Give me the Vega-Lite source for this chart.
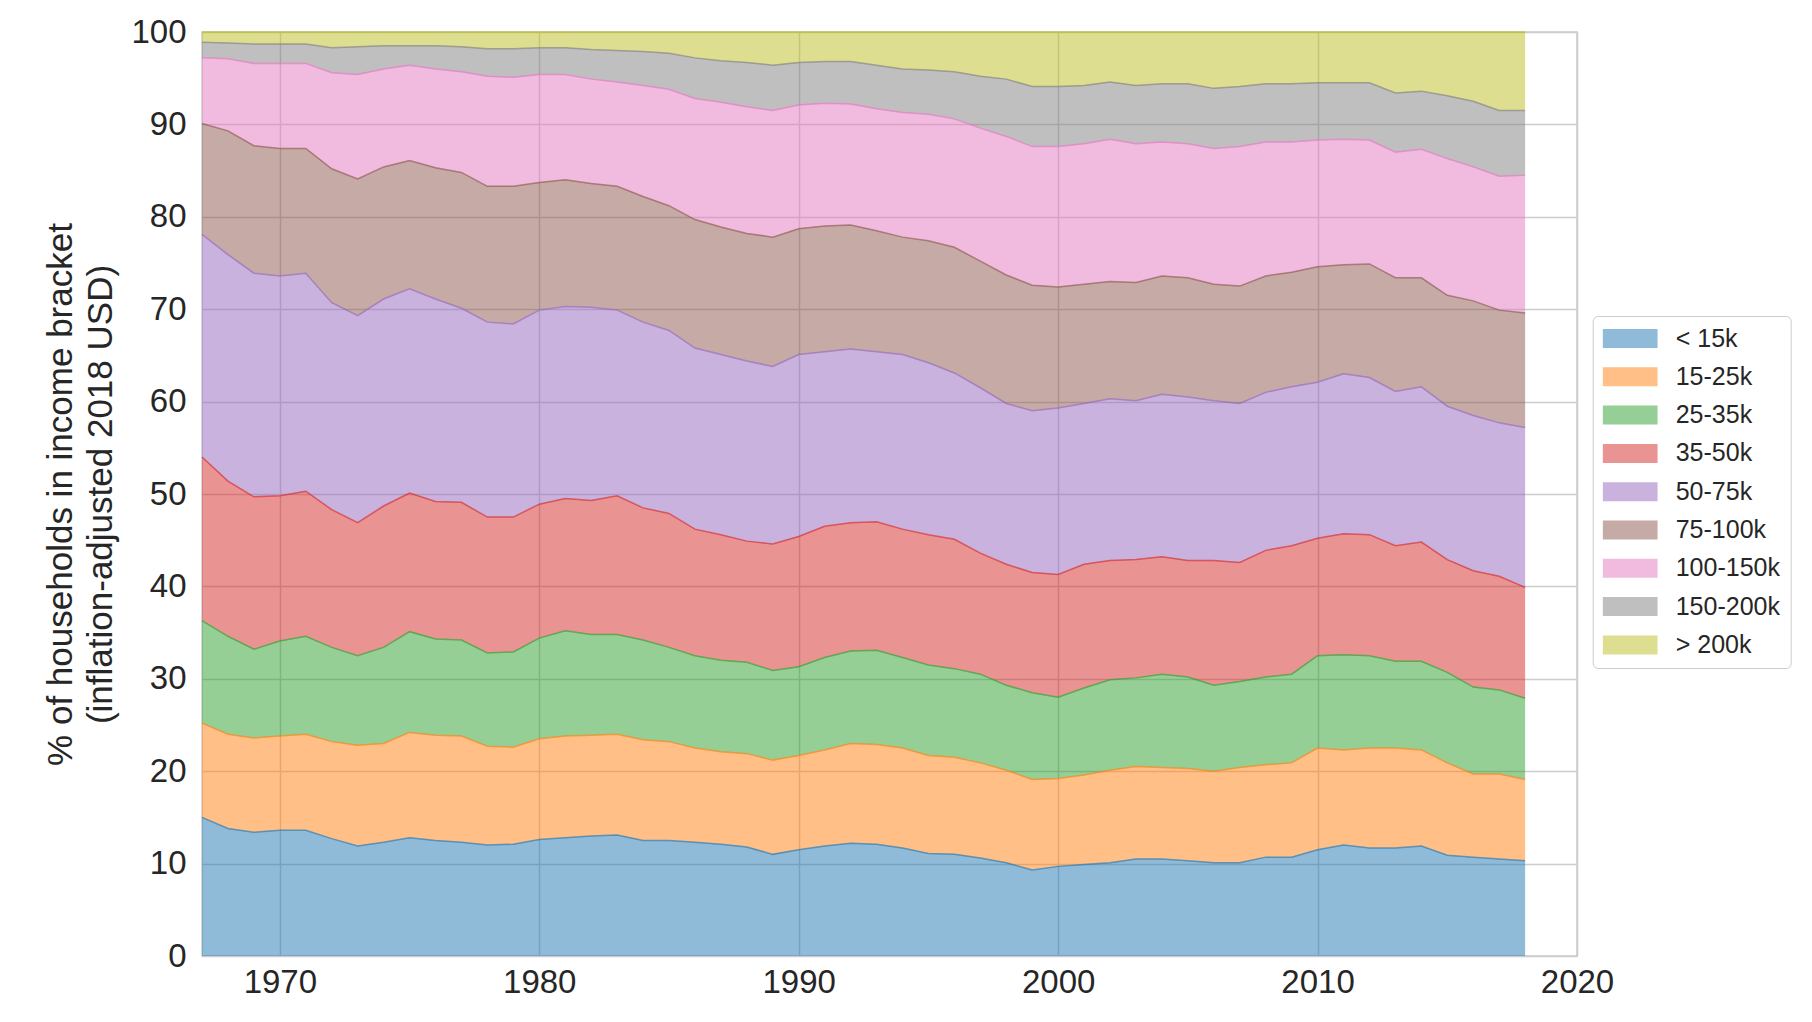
{
"$schema": "https://vega.github.io/schema/vega-lite/v6.json",
"width": 1375, "height": 924,
"autosize": {"type": "none"},
"padding": {"left": 202, "top": 32, "right": 235, "bottom": 66},
"background": "white",
"config": {
  "font": "Liberation Sans",
  "view": {"stroke": "#cccccc", "strokeWidth": 1.5},
  "axis": {"grid": true, "gridColor": "#cccccc", "gridWidth": 1.5, "domain": false, "ticks": false,
    "labelFont": "Liberation Sans", "labelFontSize": 33, "labelColor": "#262626",
    "titleFont": "Liberation Sans", "titleFontSize": 35, "titleColor": "#262626", "titleFontWeight": "normal"}
},
"data": {"values": [
{"year":1967,"bracket":"< 15k","pct":15.0,"rank":1},{"year":1967,"bracket":"15-25k","pct":10.2,"rank":2},{"year":1967,"bracket":"25-35k","pct":11.1,"rank":3},{"year":1967,"bracket":"35-50k","pct":17.7,"rank":4},{"year":1967,"bracket":"50-75k","pct":24.1,"rank":5},{"year":1967,"bracket":"75-100k","pct":12.0,"rank":6},{"year":1967,"bracket":"100-150k","pct":7.1,"rank":7},{"year":1967,"bracket":"150-200k","pct":1.7,"rank":8},{"year":1967,"bracket":"> 200k","pct":1.1,"rank":9},
{"year":1968,"bracket":"< 15k","pct":13.8,"rank":1},{"year":1968,"bracket":"15-25k","pct":10.2,"rank":2},{"year":1968,"bracket":"25-35k","pct":10.6,"rank":3},{"year":1968,"bracket":"35-50k","pct":16.8,"rank":4},{"year":1968,"bracket":"50-75k","pct":24.5,"rank":5},{"year":1968,"bracket":"75-100k","pct":13.4,"rank":6},{"year":1968,"bracket":"100-150k","pct":7.8,"rank":7},{"year":1968,"bracket":"150-200k","pct":1.7,"rank":8},{"year":1968,"bracket":"> 200k","pct":1.2,"rank":9},
{"year":1969,"bracket":"< 15k","pct":13.4,"rank":1},{"year":1969,"bracket":"15-25k","pct":10.2,"rank":2},{"year":1969,"bracket":"25-35k","pct":9.6,"rank":3},{"year":1969,"bracket":"35-50k","pct":16.5,"rank":4},{"year":1969,"bracket":"50-75k","pct":24.2,"rank":5},{"year":1969,"bracket":"75-100k","pct":13.8,"rank":6},{"year":1969,"bracket":"100-150k","pct":8.9,"rank":7},{"year":1969,"bracket":"150-200k","pct":2.1,"rank":8},{"year":1969,"bracket":"> 200k","pct":1.3,"rank":9},
{"year":1970,"bracket":"< 15k","pct":13.6,"rank":1},{"year":1970,"bracket":"15-25k","pct":10.2,"rank":2},{"year":1970,"bracket":"25-35k","pct":10.3,"rank":3},{"year":1970,"bracket":"35-50k","pct":15.7,"rank":4},{"year":1970,"bracket":"50-75k","pct":23.8,"rank":5},{"year":1970,"bracket":"75-100k","pct":13.8,"rank":6},{"year":1970,"bracket":"100-150k","pct":9.2,"rank":7},{"year":1970,"bracket":"150-200k","pct":2.1,"rank":8},{"year":1970,"bracket":"> 200k","pct":1.3,"rank":9},
{"year":1971,"bracket":"< 15k","pct":13.6,"rank":1},{"year":1971,"bracket":"15-25k","pct":10.4,"rank":2},{"year":1971,"bracket":"25-35k","pct":10.6,"rank":3},{"year":1971,"bracket":"35-50k","pct":15.7,"rank":4},{"year":1971,"bracket":"50-75k","pct":23.6,"rank":5},{"year":1971,"bracket":"75-100k","pct":13.5,"rank":6},{"year":1971,"bracket":"100-150k","pct":9.2,"rank":7},{"year":1971,"bracket":"150-200k","pct":2.1,"rank":8},{"year":1971,"bracket":"> 200k","pct":1.3,"rank":9},
{"year":1972,"bracket":"< 15k","pct":12.7,"rank":1},{"year":1972,"bracket":"15-25k","pct":10.5,"rank":2},{"year":1972,"bracket":"25-35k","pct":10.2,"rank":3},{"year":1972,"bracket":"35-50k","pct":14.9,"rank":4},{"year":1972,"bracket":"50-75k","pct":22.4,"rank":5},{"year":1972,"bracket":"75-100k","pct":14.5,"rank":6},{"year":1972,"bracket":"100-150k","pct":10.4,"rank":7},{"year":1972,"bracket":"150-200k","pct":2.7,"rank":8},{"year":1972,"bracket":"> 200k","pct":1.7,"rank":9},
{"year":1973,"bracket":"< 15k","pct":11.9,"rank":1},{"year":1973,"bracket":"15-25k","pct":10.9,"rank":2},{"year":1973,"bracket":"25-35k","pct":9.7,"rank":3},{"year":1973,"bracket":"35-50k","pct":14.4,"rank":4},{"year":1973,"bracket":"50-75k","pct":22.4,"rank":5},{"year":1973,"bracket":"75-100k","pct":14.8,"rank":6},{"year":1973,"bracket":"100-150k","pct":11.3,"rank":7},{"year":1973,"bracket":"150-200k","pct":3.0,"rank":8},{"year":1973,"bracket":"> 200k","pct":1.6,"rank":9},
{"year":1974,"bracket":"< 15k","pct":12.3,"rank":1},{"year":1974,"bracket":"15-25k","pct":10.7,"rank":2},{"year":1974,"bracket":"25-35k","pct":10.4,"rank":3},{"year":1974,"bracket":"35-50k","pct":15.3,"rank":4},{"year":1974,"bracket":"50-75k","pct":22.4,"rank":5},{"year":1974,"bracket":"75-100k","pct":14.3,"rank":6},{"year":1974,"bracket":"100-150k","pct":10.6,"rank":7},{"year":1974,"bracket":"150-200k","pct":2.5,"rank":8},{"year":1974,"bracket":"> 200k","pct":1.5,"rank":9},
{"year":1975,"bracket":"< 15k","pct":12.8,"rank":1},{"year":1975,"bracket":"15-25k","pct":11.4,"rank":2},{"year":1975,"bracket":"25-35k","pct":10.9,"rank":3},{"year":1975,"bracket":"35-50k","pct":15.0,"rank":4},{"year":1975,"bracket":"50-75k","pct":22.1,"rank":5},{"year":1975,"bracket":"75-100k","pct":13.9,"rank":6},{"year":1975,"bracket":"100-150k","pct":10.3,"rank":7},{"year":1975,"bracket":"150-200k","pct":2.1,"rank":8},{"year":1975,"bracket":"> 200k","pct":1.5,"rank":9},
{"year":1976,"bracket":"< 15k","pct":12.5,"rank":1},{"year":1976,"bracket":"15-25k","pct":11.4,"rank":2},{"year":1976,"bracket":"25-35k","pct":10.4,"rank":3},{"year":1976,"bracket":"35-50k","pct":14.9,"rank":4},{"year":1976,"bracket":"50-75k","pct":21.9,"rank":5},{"year":1976,"bracket":"75-100k","pct":14.2,"rank":6},{"year":1976,"bracket":"100-150k","pct":10.7,"rank":7},{"year":1976,"bracket":"150-200k","pct":2.5,"rank":8},{"year":1976,"bracket":"> 200k","pct":1.5,"rank":9},
{"year":1977,"bracket":"< 15k","pct":12.3,"rank":1},{"year":1977,"bracket":"15-25k","pct":11.5,"rank":2},{"year":1977,"bracket":"25-35k","pct":10.4,"rank":3},{"year":1977,"bracket":"35-50k","pct":14.9,"rank":4},{"year":1977,"bracket":"50-75k","pct":21.0,"rank":5},{"year":1977,"bracket":"75-100k","pct":14.7,"rank":6},{"year":1977,"bracket":"100-150k","pct":10.9,"rank":7},{"year":1977,"bracket":"150-200k","pct":2.7,"rank":8},{"year":1977,"bracket":"> 200k","pct":1.6,"rank":9},
{"year":1978,"bracket":"< 15k","pct":12.0,"rank":1},{"year":1978,"bracket":"15-25k","pct":10.7,"rank":2},{"year":1978,"bracket":"25-35k","pct":10.1,"rank":3},{"year":1978,"bracket":"35-50k","pct":14.7,"rank":4},{"year":1978,"bracket":"50-75k","pct":21.1,"rank":5},{"year":1978,"bracket":"75-100k","pct":14.7,"rank":6},{"year":1978,"bracket":"100-150k","pct":11.9,"rank":7},{"year":1978,"bracket":"150-200k","pct":3.0,"rank":8},{"year":1978,"bracket":"> 200k","pct":1.8,"rank":9},
{"year":1979,"bracket":"< 15k","pct":12.1,"rank":1},{"year":1979,"bracket":"15-25k","pct":10.5,"rank":2},{"year":1979,"bracket":"25-35k","pct":10.3,"rank":3},{"year":1979,"bracket":"35-50k","pct":14.6,"rank":4},{"year":1979,"bracket":"50-75k","pct":20.9,"rank":5},{"year":1979,"bracket":"75-100k","pct":14.9,"rank":6},{"year":1979,"bracket":"100-150k","pct":11.8,"rank":7},{"year":1979,"bracket":"150-200k","pct":3.1,"rank":8},{"year":1979,"bracket":"> 200k","pct":1.8,"rank":9},
{"year":1980,"bracket":"< 15k","pct":12.6,"rank":1},{"year":1980,"bracket":"15-25k","pct":10.9,"rank":2},{"year":1980,"bracket":"25-35k","pct":10.9,"rank":3},{"year":1980,"bracket":"35-50k","pct":14.5,"rank":4},{"year":1980,"bracket":"50-75k","pct":21.0,"rank":5},{"year":1980,"bracket":"75-100k","pct":13.8,"rank":6},{"year":1980,"bracket":"100-150k","pct":11.7,"rank":7},{"year":1980,"bracket":"150-200k","pct":2.9,"rank":8},{"year":1980,"bracket":"> 200k","pct":1.7,"rank":9},
{"year":1981,"bracket":"< 15k","pct":12.8,"rank":1},{"year":1981,"bracket":"15-25k","pct":11.0,"rank":2},{"year":1981,"bracket":"25-35k","pct":11.4,"rank":3},{"year":1981,"bracket":"35-50k","pct":14.3,"rank":4},{"year":1981,"bracket":"50-75k","pct":20.8,"rank":5},{"year":1981,"bracket":"75-100k","pct":13.7,"rank":6},{"year":1981,"bracket":"100-150k","pct":11.4,"rank":7},{"year":1981,"bracket":"150-200k","pct":2.9,"rank":8},{"year":1981,"bracket":"> 200k","pct":1.7,"rank":9},
{"year":1982,"bracket":"< 15k","pct":13.0,"rank":1},{"year":1982,"bracket":"15-25k","pct":10.9,"rank":2},{"year":1982,"bracket":"25-35k","pct":10.9,"rank":3},{"year":1982,"bracket":"35-50k","pct":14.5,"rank":4},{"year":1982,"bracket":"50-75k","pct":20.9,"rank":5},{"year":1982,"bracket":"75-100k","pct":13.4,"rank":6},{"year":1982,"bracket":"100-150k","pct":11.3,"rank":7},{"year":1982,"bracket":"150-200k","pct":3.2,"rank":8},{"year":1982,"bracket":"> 200k","pct":1.9,"rank":9},
{"year":1983,"bracket":"< 15k","pct":13.1,"rank":1},{"year":1983,"bracket":"15-25k","pct":10.9,"rank":2},{"year":1983,"bracket":"25-35k","pct":10.8,"rank":3},{"year":1983,"bracket":"35-50k","pct":15.0,"rank":4},{"year":1983,"bracket":"50-75k","pct":20.1,"rank":5},{"year":1983,"bracket":"75-100k","pct":13.4,"rank":6},{"year":1983,"bracket":"100-150k","pct":11.3,"rank":7},{"year":1983,"bracket":"150-200k","pct":3.4,"rank":8},{"year":1983,"bracket":"> 200k","pct":2.0,"rank":9},
{"year":1984,"bracket":"< 15k","pct":12.5,"rank":1},{"year":1984,"bracket":"15-25k","pct":10.9,"rank":2},{"year":1984,"bracket":"25-35k","pct":10.8,"rank":3},{"year":1984,"bracket":"35-50k","pct":14.3,"rank":4},{"year":1984,"bracket":"50-75k","pct":20.1,"rank":5},{"year":1984,"bracket":"75-100k","pct":13.6,"rank":6},{"year":1984,"bracket":"100-150k","pct":12.0,"rank":7},{"year":1984,"bracket":"150-200k","pct":3.7,"rank":8},{"year":1984,"bracket":"> 200k","pct":2.1,"rank":9},
{"year":1985,"bracket":"< 15k","pct":12.5,"rank":1},{"year":1985,"bracket":"15-25k","pct":10.7,"rank":2},{"year":1985,"bracket":"25-35k","pct":10.2,"rank":3},{"year":1985,"bracket":"35-50k","pct":14.5,"rank":4},{"year":1985,"bracket":"50-75k","pct":19.8,"rank":5},{"year":1985,"bracket":"75-100k","pct":13.5,"rank":6},{"year":1985,"bracket":"100-150k","pct":12.6,"rank":7},{"year":1985,"bracket":"150-200k","pct":3.9,"rank":8},{"year":1985,"bracket":"> 200k","pct":2.3,"rank":9},
{"year":1986,"bracket":"< 15k","pct":12.3,"rank":1},{"year":1986,"bracket":"15-25k","pct":10.2,"rank":2},{"year":1986,"bracket":"25-35k","pct":10.0,"rank":3},{"year":1986,"bracket":"35-50k","pct":13.7,"rank":4},{"year":1986,"bracket":"50-75k","pct":19.6,"rank":5},{"year":1986,"bracket":"75-100k","pct":13.9,"rank":6},{"year":1986,"bracket":"100-150k","pct":13.1,"rank":7},{"year":1986,"bracket":"150-200k","pct":4.4,"rank":8},{"year":1986,"bracket":"> 200k","pct":2.8,"rank":9},
{"year":1987,"bracket":"< 15k","pct":12.1,"rank":1},{"year":1987,"bracket":"15-25k","pct":10.0,"rank":2},{"year":1987,"bracket":"25-35k","pct":9.9,"rank":3},{"year":1987,"bracket":"35-50k","pct":13.6,"rank":4},{"year":1987,"bracket":"50-75k","pct":19.5,"rank":5},{"year":1987,"bracket":"75-100k","pct":13.8,"rank":6},{"year":1987,"bracket":"100-150k","pct":13.5,"rank":7},{"year":1987,"bracket":"150-200k","pct":4.5,"rank":8},{"year":1987,"bracket":"> 200k","pct":3.1,"rank":9},
{"year":1988,"bracket":"< 15k","pct":11.8,"rank":1},{"year":1988,"bracket":"15-25k","pct":10.1,"rank":2},{"year":1988,"bracket":"25-35k","pct":9.9,"rank":3},{"year":1988,"bracket":"35-50k","pct":13.1,"rank":4},{"year":1988,"bracket":"50-75k","pct":19.5,"rank":5},{"year":1988,"bracket":"75-100k","pct":13.8,"rank":6},{"year":1988,"bracket":"100-150k","pct":13.7,"rank":7},{"year":1988,"bracket":"150-200k","pct":4.8,"rank":8},{"year":1988,"bracket":"> 200k","pct":3.3,"rank":9},
{"year":1989,"bracket":"< 15k","pct":11.0,"rank":1},{"year":1989,"bracket":"15-25k","pct":10.2,"rank":2},{"year":1989,"bracket":"25-35k","pct":9.7,"rank":3},{"year":1989,"bracket":"35-50k","pct":13.7,"rank":4},{"year":1989,"bracket":"50-75k","pct":19.2,"rank":5},{"year":1989,"bracket":"75-100k","pct":14.0,"rank":6},{"year":1989,"bracket":"100-150k","pct":13.7,"rank":7},{"year":1989,"bracket":"150-200k","pct":4.9,"rank":8},{"year":1989,"bracket":"> 200k","pct":3.6,"rank":9},
{"year":1990,"bracket":"< 15k","pct":11.5,"rank":1},{"year":1990,"bracket":"15-25k","pct":10.2,"rank":2},{"year":1990,"bracket":"25-35k","pct":9.6,"rank":3},{"year":1990,"bracket":"35-50k","pct":14.1,"rank":4},{"year":1990,"bracket":"50-75k","pct":19.7,"rank":5},{"year":1990,"bracket":"75-100k","pct":13.6,"rank":6},{"year":1990,"bracket":"100-150k","pct":13.4,"rank":7},{"year":1990,"bracket":"150-200k","pct":4.6,"rank":8},{"year":1990,"bracket":"> 200k","pct":3.3,"rank":9},
{"year":1991,"bracket":"< 15k","pct":11.9,"rank":1},{"year":1991,"bracket":"15-25k","pct":10.4,"rank":2},{"year":1991,"bracket":"25-35k","pct":10.0,"rank":3},{"year":1991,"bracket":"35-50k","pct":14.2,"rank":4},{"year":1991,"bracket":"50-75k","pct":18.9,"rank":5},{"year":1991,"bracket":"75-100k","pct":13.6,"rank":6},{"year":1991,"bracket":"100-150k","pct":13.3,"rank":7},{"year":1991,"bracket":"150-200k","pct":4.5,"rank":8},{"year":1991,"bracket":"> 200k","pct":3.2,"rank":9},
{"year":1992,"bracket":"< 15k","pct":12.2,"rank":1},{"year":1992,"bracket":"15-25k","pct":10.8,"rank":2},{"year":1992,"bracket":"25-35k","pct":10.0,"rank":3},{"year":1992,"bracket":"35-50k","pct":13.9,"rank":4},{"year":1992,"bracket":"50-75k","pct":18.8,"rank":5},{"year":1992,"bracket":"75-100k","pct":13.4,"rank":6},{"year":1992,"bracket":"100-150k","pct":13.1,"rank":7},{"year":1992,"bracket":"150-200k","pct":4.6,"rank":8},{"year":1992,"bracket":"> 200k","pct":3.2,"rank":9},
{"year":1993,"bracket":"< 15k","pct":12.1,"rank":1},{"year":1993,"bracket":"15-25k","pct":10.8,"rank":2},{"year":1993,"bracket":"25-35k","pct":10.2,"rank":3},{"year":1993,"bracket":"35-50k","pct":13.9,"rank":4},{"year":1993,"bracket":"50-75k","pct":18.4,"rank":5},{"year":1993,"bracket":"75-100k","pct":13.1,"rank":6},{"year":1993,"bracket":"100-150k","pct":13.2,"rank":7},{"year":1993,"bracket":"150-200k","pct":4.7,"rank":8},{"year":1993,"bracket":"> 200k","pct":3.6,"rank":9},
{"year":1994,"bracket":"< 15k","pct":11.7,"rank":1},{"year":1994,"bracket":"15-25k","pct":10.8,"rank":2},{"year":1994,"bracket":"25-35k","pct":9.8,"rank":3},{"year":1994,"bracket":"35-50k","pct":13.9,"rank":4},{"year":1994,"bracket":"50-75k","pct":18.9,"rank":5},{"year":1994,"bracket":"75-100k","pct":12.7,"rank":6},{"year":1994,"bracket":"100-150k","pct":13.5,"rank":7},{"year":1994,"bracket":"150-200k","pct":4.7,"rank":8},{"year":1994,"bracket":"> 200k","pct":4.0,"rank":9},
{"year":1995,"bracket":"< 15k","pct":11.1,"rank":1},{"year":1995,"bracket":"15-25k","pct":10.6,"rank":2},{"year":1995,"bracket":"25-35k","pct":9.8,"rank":3},{"year":1995,"bracket":"35-50k","pct":14.1,"rank":4},{"year":1995,"bracket":"50-75k","pct":18.6,"rank":5},{"year":1995,"bracket":"75-100k","pct":13.2,"rank":6},{"year":1995,"bracket":"100-150k","pct":13.7,"rank":7},{"year":1995,"bracket":"150-200k","pct":4.8,"rank":8},{"year":1995,"bracket":"> 200k","pct":4.1,"rank":9},
{"year":1996,"bracket":"< 15k","pct":11.0,"rank":1},{"year":1996,"bracket":"15-25k","pct":10.5,"rank":2},{"year":1996,"bracket":"25-35k","pct":9.6,"rank":3},{"year":1996,"bracket":"35-50k","pct":14.0,"rank":4},{"year":1996,"bracket":"50-75k","pct":18.0,"rank":5},{"year":1996,"bracket":"75-100k","pct":13.6,"rank":6},{"year":1996,"bracket":"100-150k","pct":13.9,"rank":7},{"year":1996,"bracket":"150-200k","pct":5.1,"rank":8},{"year":1996,"bracket":"> 200k","pct":4.3,"rank":9},
{"year":1997,"bracket":"< 15k","pct":10.6,"rank":1},{"year":1997,"bracket":"15-25k","pct":10.3,"rank":2},{"year":1997,"bracket":"25-35k","pct":9.6,"rank":3},{"year":1997,"bracket":"35-50k","pct":13.1,"rank":4},{"year":1997,"bracket":"50-75k","pct":17.9,"rank":5},{"year":1997,"bracket":"75-100k","pct":13.7,"rank":6},{"year":1997,"bracket":"100-150k","pct":14.4,"rank":7},{"year":1997,"bracket":"150-200k","pct":5.6,"rank":8},{"year":1997,"bracket":"> 200k","pct":4.8,"rank":9},
{"year":1998,"bracket":"< 15k","pct":10.1,"rank":1},{"year":1998,"bracket":"15-25k","pct":10.0,"rank":2},{"year":1998,"bracket":"25-35k","pct":9.2,"rank":3},{"year":1998,"bracket":"35-50k","pct":13.1,"rank":4},{"year":1998,"bracket":"50-75k","pct":17.4,"rank":5},{"year":1998,"bracket":"75-100k","pct":13.9,"rank":6},{"year":1998,"bracket":"100-150k","pct":15.0,"rank":7},{"year":1998,"bracket":"150-200k","pct":6.2,"rank":8},{"year":1998,"bracket":"> 200k","pct":5.1,"rank":9},
{"year":1999,"bracket":"< 15k","pct":9.3,"rank":1},{"year":1999,"bracket":"15-25k","pct":9.8,"rank":2},{"year":1999,"bracket":"25-35k","pct":9.4,"rank":3},{"year":1999,"bracket":"35-50k","pct":13.0,"rank":4},{"year":1999,"bracket":"50-75k","pct":17.5,"rank":5},{"year":1999,"bracket":"75-100k","pct":13.6,"rank":6},{"year":1999,"bracket":"100-150k","pct":15.0,"rank":7},{"year":1999,"bracket":"150-200k","pct":6.5,"rank":8},{"year":1999,"bracket":"> 200k","pct":5.9,"rank":9},
{"year":2000,"bracket":"< 15k","pct":9.7,"rank":1},{"year":2000,"bracket":"15-25k","pct":9.5,"rank":2},{"year":2000,"bracket":"25-35k","pct":8.8,"rank":3},{"year":2000,"bracket":"35-50k","pct":13.3,"rank":4},{"year":2000,"bracket":"50-75k","pct":18.0,"rank":5},{"year":2000,"bracket":"75-100k","pct":13.1,"rank":6},{"year":2000,"bracket":"100-150k","pct":15.2,"rank":7},{"year":2000,"bracket":"150-200k","pct":6.5,"rank":8},{"year":2000,"bracket":"> 200k","pct":5.9,"rank":9},
{"year":2001,"bracket":"< 15k","pct":9.9,"rank":1},{"year":2001,"bracket":"15-25k","pct":9.7,"rank":2},{"year":2001,"bracket":"25-35k","pct":9.4,"rank":3},{"year":2001,"bracket":"35-50k","pct":13.4,"rank":4},{"year":2001,"bracket":"50-75k","pct":17.4,"rank":5},{"year":2001,"bracket":"75-100k","pct":12.9,"rank":6},{"year":2001,"bracket":"100-150k","pct":15.2,"rank":7},{"year":2001,"bracket":"150-200k","pct":6.3,"rank":8},{"year":2001,"bracket":"> 200k","pct":5.8,"rank":9},
{"year":2002,"bracket":"< 15k","pct":10.1,"rank":1},{"year":2002,"bracket":"15-25k","pct":10.0,"rank":2},{"year":2002,"bracket":"25-35k","pct":9.8,"rank":3},{"year":2002,"bracket":"35-50k","pct":12.9,"rank":4},{"year":2002,"bracket":"50-75k","pct":17.5,"rank":5},{"year":2002,"bracket":"75-100k","pct":12.7,"rank":6},{"year":2002,"bracket":"100-150k","pct":15.4,"rank":7},{"year":2002,"bracket":"150-200k","pct":6.2,"rank":8},{"year":2002,"bracket":"> 200k","pct":5.4,"rank":9},
{"year":2003,"bracket":"< 15k","pct":10.5,"rank":1},{"year":2003,"bracket":"15-25k","pct":10.0,"rank":2},{"year":2003,"bracket":"25-35k","pct":9.6,"rank":3},{"year":2003,"bracket":"35-50k","pct":12.8,"rank":4},{"year":2003,"bracket":"50-75k","pct":17.2,"rank":5},{"year":2003,"bracket":"75-100k","pct":12.8,"rank":6},{"year":2003,"bracket":"100-150k","pct":15.0,"rank":7},{"year":2003,"bracket":"150-200k","pct":6.3,"rank":8},{"year":2003,"bracket":"> 200k","pct":5.8,"rank":9},
{"year":2004,"bracket":"< 15k","pct":10.5,"rank":1},{"year":2004,"bracket":"15-25k","pct":9.9,"rank":2},{"year":2004,"bracket":"25-35k","pct":10.1,"rank":3},{"year":2004,"bracket":"35-50k","pct":12.7,"rank":4},{"year":2004,"bracket":"50-75k","pct":17.6,"rank":5},{"year":2004,"bracket":"75-100k","pct":12.8,"rank":6},{"year":2004,"bracket":"100-150k","pct":14.5,"rank":7},{"year":2004,"bracket":"150-200k","pct":6.3,"rank":8},{"year":2004,"bracket":"> 200k","pct":5.6,"rank":9},
{"year":2005,"bracket":"< 15k","pct":10.3,"rank":1},{"year":2005,"bracket":"15-25k","pct":10.0,"rank":2},{"year":2005,"bracket":"25-35k","pct":9.9,"rank":3},{"year":2005,"bracket":"35-50k","pct":12.6,"rank":4},{"year":2005,"bracket":"50-75k","pct":17.7,"rank":5},{"year":2005,"bracket":"75-100k","pct":12.9,"rank":6},{"year":2005,"bracket":"100-150k","pct":14.5,"rank":7},{"year":2005,"bracket":"150-200k","pct":6.5,"rank":8},{"year":2005,"bracket":"> 200k","pct":5.6,"rank":9},
{"year":2006,"bracket":"< 15k","pct":10.1,"rank":1},{"year":2006,"bracket":"15-25k","pct":9.9,"rank":2},{"year":2006,"bracket":"25-35k","pct":9.3,"rank":3},{"year":2006,"bracket":"35-50k","pct":13.5,"rank":4},{"year":2006,"bracket":"50-75k","pct":17.3,"rank":5},{"year":2006,"bracket":"75-100k","pct":12.6,"rank":6},{"year":2006,"bracket":"100-150k","pct":14.7,"rank":7},{"year":2006,"bracket":"150-200k","pct":6.5,"rank":8},{"year":2006,"bracket":"> 200k","pct":6.1,"rank":9},
{"year":2007,"bracket":"< 15k","pct":10.1,"rank":1},{"year":2007,"bracket":"15-25k","pct":10.3,"rank":2},{"year":2007,"bracket":"25-35k","pct":9.3,"rank":3},{"year":2007,"bracket":"35-50k","pct":12.9,"rank":4},{"year":2007,"bracket":"50-75k","pct":17.2,"rank":5},{"year":2007,"bracket":"75-100k","pct":12.7,"rank":6},{"year":2007,"bracket":"100-150k","pct":15.1,"rank":7},{"year":2007,"bracket":"150-200k","pct":6.5,"rank":8},{"year":2007,"bracket":"> 200k","pct":5.9,"rank":9},
{"year":2008,"bracket":"< 15k","pct":10.7,"rank":1},{"year":2008,"bracket":"15-25k","pct":10.0,"rank":2},{"year":2008,"bracket":"25-35k","pct":9.5,"rank":3},{"year":2008,"bracket":"35-50k","pct":13.7,"rank":4},{"year":2008,"bracket":"50-75k","pct":17.1,"rank":5},{"year":2008,"bracket":"75-100k","pct":12.6,"rank":6},{"year":2008,"bracket":"100-150k","pct":14.5,"rank":7},{"year":2008,"bracket":"150-200k","pct":6.3,"rank":8},{"year":2008,"bracket":"> 200k","pct":5.6,"rank":9},
{"year":2009,"bracket":"< 15k","pct":10.7,"rank":1},{"year":2009,"bracket":"15-25k","pct":10.2,"rank":2},{"year":2009,"bracket":"25-35k","pct":9.6,"rank":3},{"year":2009,"bracket":"35-50k","pct":13.9,"rank":4},{"year":2009,"bracket":"50-75k","pct":17.2,"rank":5},{"year":2009,"bracket":"75-100k","pct":12.4,"rank":6},{"year":2009,"bracket":"100-150k","pct":14.1,"rank":7},{"year":2009,"bracket":"150-200k","pct":6.3,"rank":8},{"year":2009,"bracket":"> 200k","pct":5.6,"rank":9},
{"year":2010,"bracket":"< 15k","pct":11.5,"rank":1},{"year":2010,"bracket":"15-25k","pct":11.0,"rank":2},{"year":2010,"bracket":"25-35k","pct":10.0,"rank":3},{"year":2010,"bracket":"35-50k","pct":12.7,"rank":4},{"year":2010,"bracket":"50-75k","pct":16.9,"rank":5},{"year":2010,"bracket":"75-100k","pct":12.5,"rank":6},{"year":2010,"bracket":"100-150k","pct":13.7,"rank":7},{"year":2010,"bracket":"150-200k","pct":6.2,"rank":8},{"year":2010,"bracket":"> 200k","pct":5.5,"rank":9},
{"year":2011,"bracket":"< 15k","pct":12.0,"rank":1},{"year":2011,"bracket":"15-25k","pct":10.3,"rank":2},{"year":2011,"bracket":"25-35k","pct":10.3,"rank":3},{"year":2011,"bracket":"35-50k","pct":13.1,"rank":4},{"year":2011,"bracket":"50-75k","pct":17.3,"rank":5},{"year":2011,"bracket":"75-100k","pct":11.8,"rank":6},{"year":2011,"bracket":"100-150k","pct":13.6,"rank":7},{"year":2011,"bracket":"150-200k","pct":6.1,"rank":8},{"year":2011,"bracket":"> 200k","pct":5.5,"rank":9},
{"year":2012,"bracket":"< 15k","pct":11.7,"rank":1},{"year":2012,"bracket":"15-25k","pct":10.8,"rank":2},{"year":2012,"bracket":"25-35k","pct":10.0,"rank":3},{"year":2012,"bracket":"35-50k","pct":13.1,"rank":4},{"year":2012,"bracket":"50-75k","pct":17.0,"rank":5},{"year":2012,"bracket":"75-100k","pct":12.3,"rank":6},{"year":2012,"bracket":"100-150k","pct":13.4,"rank":7},{"year":2012,"bracket":"150-200k","pct":6.2,"rank":8},{"year":2012,"bracket":"> 200k","pct":5.5,"rank":9},
{"year":2013,"bracket":"< 15k","pct":11.7,"rank":1},{"year":2013,"bracket":"15-25k","pct":10.8,"rank":2},{"year":2013,"bracket":"25-35k","pct":9.4,"rank":3},{"year":2013,"bracket":"35-50k","pct":12.5,"rank":4},{"year":2013,"bracket":"50-75k","pct":16.7,"rank":5},{"year":2013,"bracket":"75-100k","pct":12.3,"rank":6},{"year":2013,"bracket":"100-150k","pct":13.6,"rank":7},{"year":2013,"bracket":"150-200k","pct":6.4,"rank":8},{"year":2013,"bracket":"> 200k","pct":6.6,"rank":9},
{"year":2014,"bracket":"< 15k","pct":11.9,"rank":1},{"year":2014,"bracket":"15-25k","pct":10.4,"rank":2},{"year":2014,"bracket":"25-35k","pct":9.6,"rank":3},{"year":2014,"bracket":"35-50k","pct":12.9,"rank":4},{"year":2014,"bracket":"50-75k","pct":16.8,"rank":5},{"year":2014,"bracket":"75-100k","pct":11.8,"rank":6},{"year":2014,"bracket":"100-150k","pct":13.9,"rank":7},{"year":2014,"bracket":"150-200k","pct":6.3,"rank":8},{"year":2014,"bracket":"> 200k","pct":6.4,"rank":9},
{"year":2015,"bracket":"< 15k","pct":10.9,"rank":1},{"year":2015,"bracket":"15-25k","pct":10.0,"rank":2},{"year":2015,"bracket":"25-35k","pct":9.8,"rank":3},{"year":2015,"bracket":"35-50k","pct":12.2,"rank":4},{"year":2015,"bracket":"50-75k","pct":16.6,"rank":5},{"year":2015,"bracket":"75-100k","pct":12.0,"rank":6},{"year":2015,"bracket":"100-150k","pct":14.8,"rank":7},{"year":2015,"bracket":"150-200k","pct":6.8,"rank":8},{"year":2015,"bracket":"> 200k","pct":6.9,"rank":9},
{"year":2016,"bracket":"< 15k","pct":10.7,"rank":1},{"year":2016,"bracket":"15-25k","pct":9.0,"rank":2},{"year":2016,"bracket":"25-35k","pct":9.4,"rank":3},{"year":2016,"bracket":"35-50k","pct":12.6,"rank":4},{"year":2016,"bracket":"50-75k","pct":16.8,"rank":5},{"year":2016,"bracket":"75-100k","pct":12.4,"rank":6},{"year":2016,"bracket":"100-150k","pct":14.5,"rank":7},{"year":2016,"bracket":"150-200k","pct":7.1,"rank":8},{"year":2016,"bracket":"> 200k","pct":7.5,"rank":9},
{"year":2017,"bracket":"< 15k","pct":10.5,"rank":1},{"year":2017,"bracket":"15-25k","pct":9.2,"rank":2},{"year":2017,"bracket":"25-35k","pct":9.1,"rank":3},{"year":2017,"bracket":"35-50k","pct":12.3,"rank":4},{"year":2017,"bracket":"50-75k","pct":16.6,"rank":5},{"year":2017,"bracket":"75-100k","pct":12.2,"rank":6},{"year":2017,"bracket":"100-150k","pct":14.5,"rank":7},{"year":2017,"bracket":"150-200k","pct":7.1,"rank":8},{"year":2017,"bracket":"> 200k","pct":8.5,"rank":9},
{"year":2018,"bracket":"< 15k","pct":10.3,"rank":1},{"year":2018,"bracket":"15-25k","pct":8.8,"rank":2},{"year":2018,"bracket":"25-35k","pct":8.8,"rank":3},{"year":2018,"bracket":"35-50k","pct":12.0,"rank":4},{"year":2018,"bracket":"50-75k","pct":17.3,"rank":5},{"year":2018,"bracket":"75-100k","pct":12.4,"rank":6},{"year":2018,"bracket":"100-150k","pct":14.9,"rank":7},{"year":2018,"bracket":"150-200k","pct":7.0,"rank":8},{"year":2018,"bracket":"> 200k","pct":8.5,"rank":9}
]},
"mark": {"type": "area", "opacity": 0.5, "line": {"strokeWidth": 1.5, "opacity": 0.65}},
"encoding": {
  "x": {"field": "year", "type": "quantitative",
    "scale": {"domain": [1967, 2020], "nice": false, "zero": false},
    "axis": {"values": [1970, 1980, 1990, 2000, 2010, 2020], "format": "d", "title": null, "labelPadding": 10, "labelFlush": false, "labelOverlap": false}},
  "y": {"field": "pct", "type": "quantitative", "stack": "zero",
    "scale": {"domain": [0, 100], "nice": false},
    "axis": {"values": [0, 10, 20, 30, 40, 50, 60, 70, 80, 90, 100], "labelPadding": 16,
      "title": ["% of households in income bracket", "(inflation-adjusted 2018 USD)"],
      "titleX": -159, "titleY": 462, "titleAngle": -90, "titleBaseline": "top", "titleAlign": "center", "titleLineHeight": 40}},
  "color": {"field": "bracket", "type": "nominal",
    "scale": {"domain": ["< 15k", "15-25k", "25-35k", "35-50k", "50-75k", "75-100k", "100-150k", "150-200k", "> 200k"],
      "range": ["#1f77b4", "#ff7f0e", "#2ca02c", "#d62728", "#9467bd", "#8c564b", "#e377c2", "#7f7f7f", "#bcbd22"]},
    "legend": {"title": null, "orient": "none", "legendX": 1390.7, "legendY": 284, "padding": 10,
      "fillColor": "white", "strokeColor": "#cccccc", "cornerRadius": 5,
      "labelFont": "Liberation Sans", "labelFontSize": 25, "labelColor": "#262626", "labelLimit": 300,
      "symbolType": "M-2.88,-1L2.88,-1L2.88,1L-2.88,1Z", "symbolSize": 361, "symbolOpacity": 0.5, "symbolStrokeWidth": 0,
      "symbolOffset": 15, "labelOffset": 33, "rowPadding": 12.3}},
  "order": {"field": "rank", "type": "quantitative", "sort": "ascending"}
}
}
